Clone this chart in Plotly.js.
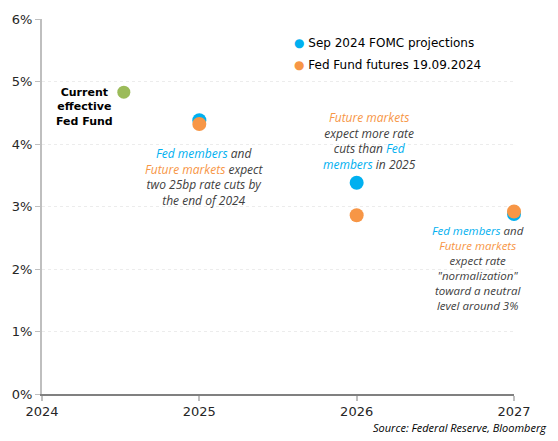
<!DOCTYPE html>
<html><head><meta charset="utf-8">
<script src="https://cdn.plot.ly/plotly-3.0.1.min.js"></script>
<style>body{margin:0;padding:0;background:#fff}#chart{width:558px;height:441px}</style>
</head><body><div id="chart"></div>
<script>
const years = [2025, 2026, 2027];
const fomcSep2024 = [4.38, 3.38, 2.88];
const futures19Sep2024 = [4.32, 2.86, 2.92];
const currentX = [2024.52];
const currentEffective = [4.83];
const yTicks = [0, 1, 2, 3, 4, 5, 6];
const yTickText = ['0%', '1%', '2%', '3%', '4%', '5%', '6%'];
const xTicks = [2024, 2025, 2026, 2027];

const BLUE = '#00B0F0', ORANGE = '#F79646', GREEN = '#9BBB59', TXT = '#404040';

const traces = [
  {x: currentX, y: currentEffective, type: 'scatter', mode: 'markers', name: 'Current effective Fed Fund',
   marker: {color: GREEN, size: 13}, cliponaxis: false},
  {x: years, y: fomcSep2024, type: 'scatter', mode: 'markers', name: 'Sep 2024 FOMC projections',
   marker: {color: BLUE, size: 14}, cliponaxis: false},
  {x: years, y: futures19Sep2024, type: 'scatter', mode: 'markers', name: 'Fed Fund futures 19.09.2024',
   marker: {color: ORANGE, size: 14}, cliponaxis: false}
];

const it = {family: 'Open Sans', size: 12, color: TXT};
const b = s => '<span style="color:' + BLUE + '">' + s + '</span>';
const o = s => '<span style="color:' + ORANGE + '">' + s + '</span>';
const ital = s => '<i>' + s + '</i>';

const layout = {
  width: 558, height: 441,
  margin: {l: 42, r: 44, t: 19, b: 47},
  paper_bgcolor: '#fff', plot_bgcolor: '#fff',
  showlegend: false,
  font: {family: 'DejaVu Sans', size: 13, color: '#262626'},
  xaxis: {range: [2024, 2027], tickvals: xTicks, ticktext: xTicks.map(String),
          showgrid: false, zeroline: false, showline: true, linecolor: '#808080', linewidth: 1.5,
          ticks: 'outside', ticklen: 5, tickcolor: '#bfbfbf', tickwidth: 2,
          tickfont: {family: 'DejaVu Sans', size: 13, color: '#262626'}},
  yaxis: {range: [0, 6], tickvals: yTicks, ticktext: yTickText,
          showgrid: true, gridcolor: '#ececec', griddash: 'dot', gridwidth: 1,
          zeroline: false, showline: true, linecolor: '#bfbfbf', linewidth: 2,
          ticks: 'outside', ticklen: 5, tickcolor: '#bfbfbf',
          tickfont: {family: 'DejaVu Sans', size: 13, color: '#262626'}},
  annotations: [
    {x: 2024.27, y: 4.59, xref: 'x', yref: 'y', showarrow: false, align: 'center',
     text: '<b>Current<br>effective<br>Fed Fund</b>', font: {family: 'DejaVu Sans', size: 11, color: '#000'}},
    {x: 2025.03, y: 3.48, xref: 'x', yref: 'y', showarrow: false, align: 'center',
     text: ital(b('Fed members') + ' and<br>' + o('Future markets') + ' expect<br>two 25bp rate cuts by<br>the end of 2024'), font: it},
    {x: 2026.08, y: 4.05, xref: 'x', yref: 'y', showarrow: false, align: 'center',
     text: ital(o('Future markets') + '<br>expect more rate<br>cuts than ' + b('Fed') + '<br>' + b('members') + ' in 2025'), font: it},
    {x: 2026.77, y: 2.01, xref: 'x', yref: 'y', showarrow: false, align: 'center',
     text: ital(b('Fed members') + ' and<br>' + o('Future markets') + '<br>expect rate<br>"normalization"<br>toward a neutral<br>level around 3%'), font: {family: 'Open Sans', size: 11.5, color: TXT}},
    {x: (292-42)/472, y: (394-43)/375, xref: 'paper', yref: 'paper', xanchor: 'left', yanchor: 'middle', showarrow: false,
     text: '<span style="color:' + BLUE + '">●</span> Sep 2024 FOMC projections', font: {family: 'DejaVu Sans', size: 12, color: '#000'}},
    {x: (292-42)/472, y: (394-65)/375, xref: 'paper', yref: 'paper', xanchor: 'left', yanchor: 'middle', showarrow: false,
     text: '<span style="color:' + ORANGE + '">●</span> Fed Fund futures 19.09.2024', font: {family: 'DejaVu Sans', size: 12, color: '#000'}},
    {x: (549-42)/472, y: (394-427)/375, xref: 'paper', yref: 'paper', xanchor: 'right', yanchor: 'middle', showarrow: false,
     text: '<i>Source: Federal Reserve, Bloomberg</i>', font: {family: 'Open Sans', size: 11, color: '#000'}}
  ]
};

Plotly.newPlot('chart', traces, layout, {displayModeBar: false, staticPlot: true});
</script></body></html>
